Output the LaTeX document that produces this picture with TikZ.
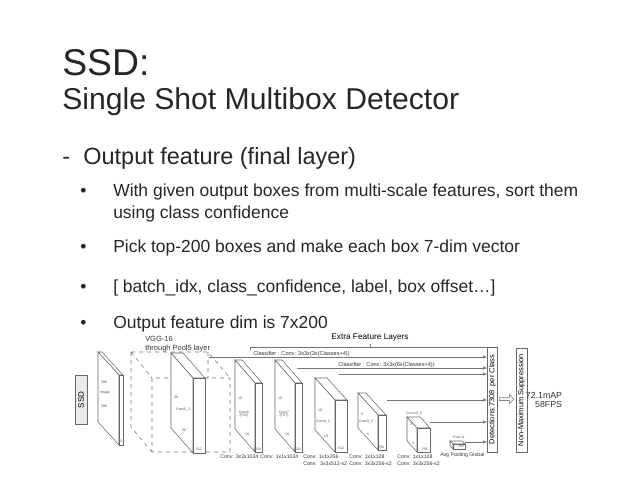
\documentclass[tikz,border=0pt]{standalone}
\usepackage{fontspec}
\setmainfont{Liberation Sans}
\usetikzlibrary{arrows.meta,shapes.arrows}
\begin{document}
\begin{tikzpicture}[x=0.75pt,y=-0.75pt,
  txt/.style={anchor=base west,inner sep=0,text=black!85},
  bul/.style={txt,font=\fontsize{13.1}{15}\selectfont},
  lay/.style={draw=black!60,line width=0.4pt,fill=white},
  tiny/.style={inner sep=0,font=\fontsize{2.6}{3}\selectfont,text=black!70},
  lbl/.style={inner sep=0,font=\fontsize{5.6}{6}\selectfont,text=black!80,anchor=base west},
  blbl/.style={lbl,font=\fontsize{3.9}{4.5}\selectfont},
  cls/.style={draw=black!55,line width=0.4pt,-{Latex[length=3pt,width=2.4pt]}},
  vbox/.style={draw=black!60,line width=0.5pt,fill=black!8}]
\useasboundingbox (0,0) rectangle (638,479);
\node[txt,font=\fontsize{28}{30}\selectfont] (t1) at (62,75) {SSD:};
\node[txt,font=\fontsize{22.6}{26}\selectfont] (t2) at (62,109) {Single Shot Multibox Detector};
\node[txt,font=\fontsize{17.6}{20}\selectfont] (t3) at (62,164) {-\hspace{10pt}Output feature (final layer)};
\foreach \yy/\tt [count=\i] in {196/{With given output boxes from multi-scale features, sort them},
  252/{Pick top-200 boxes and make each box 7-dim vector},
  292/{[ batch\_idx, class\_confidence, label, box offset…]},
  328/{Output feature dim is 7x200}}{
  \node[bul] (b\i) at (80,\yy) {•};
  \node[bul] (bt\i) at (113,\yy) {\tt};}
\node[bul] (bt1b) at (113,218) {using class confidence};
% slab macro
\newcommand{\slab}[8]{% name,x,y,dx,dy,h,w,style
  \draw[#8] (#2,#3) -- (#2+#7,#3) -- (#2+#4+#7,#3+#5) -- (#2+#4,#3+#5) -- cycle;
  \draw[#8] (#2,#3) -- (#2+#4,#3+#5) -- (#2+#4,#3+#5+#6) -- (#2,#3+#6) -- cycle;
  \draw[#8] (#2+#4,#3+#5) rectangle (#2+#4+#7,#3+#5+#6);
  \coordinate (#1) at (#2+#7,#3);}
% SSD box
\node[vbox,minimum width=37pt,minimum height=9pt,inner sep=0,rotate=90,font=\fontsize{6}{7}\selectfont] (ssd) at (81,400) {SSD};
% image
\slab{img}{98}{352}{21}{23}{70}{4}{lay}
\node[tiny] at (104,382) {300}; \node[tiny] at (105,393) {Image}; \node[tiny] at (104,406) {300}; \node[tiny] at (121,441) {3};
% VGG dashed cube
\draw[dashed,draw=black!55,line width=0.4pt] (131,352) -- (208,352) -- (230,378) (131,352) -- (152,378) (131,352) -- (131,427) -- (152,452) (208,352) -- (208,378) (152,378) rectangle (230,452);
\slab{c53}{171}{353}{22}{25}{75}{12}{lay}
\node[tiny] at (176,397) {38}; \node[tiny] at (183,410) {Conv5\_3}; \node[tiny] at (184,430) {38}; \node[tiny] at (199,449) {512};
\node[lbl] (vgg) at (145,341) {VGG-16};
\node[lbl] (vgg2) at (145,350) {through Pool5 layer};
\slab{c6}{235}{360}{20}{23}{69}{7}{lay}
\node[tiny] at (240,398) {19}; \node[tiny] at (244,412) {Conv6}; \node[tiny] at (244,416) {(FC6)}; \node[tiny] at (247,434) {19}; \node[tiny] at (257,449) {1024};
\slab{c7}{275}{360}{20}{23}{69}{7}{lay}
\node[tiny] at (280,398) {19}; \node[tiny] at (284,412) {Conv7}; \node[tiny] at (284,416) {(FC7)}; \node[tiny] at (287,434) {19}; \node[tiny] at (297,449) {1024};
\slab{c8}{315}{378}{20}{22}{52}{12}{lay}
\node[tiny] at (320,410) {10}; \node[tiny] at (323,422) {Conv8\_2}; \node[tiny] at (326,436) {10}; \node[tiny] at (341,448) {512};
\slab{c9}{358}{393}{20}{22}{35}{8}{lay}
\node[tiny] at (362,414) {5}; \node[tiny] at (366,422) {Conv9\_2}; \node[tiny] at (368,434) {5}; \node[tiny] at (381,447) {256};
\slab{c10}{407}{417}{10}{11}{24}{13}{lay}
\node[tiny] at (411,424) {3}; \node[tiny] at (413,443) {3}; \node[tiny] at (425,449) {256}; \node[tiny] at (414,414) {Conv10\_2};
\slab{p11}{450}{441}{3}{3}{5}{12}{lay}
\node[tiny] at (459,437) {Pool 11}; \node[tiny] at (461,446) {256};
% detections and NMS
\node[vbox,fill=white,minimum width=78.75pt,minimum height=7.5pt,inner sep=0,rotate=90,font=\fontsize{5.6}{6}\selectfont] (det) at (492.5,399.5) {Detections:7308 \ per Class};
\node[vbox,fill=white,minimum width=78pt,minimum height=8.5pt,inner sep=0,rotate=90,font=\fontsize{5.6}{6}\selectfont] (nms) at (521.5,400) {Non-Maximum Suppression};
\node[single arrow,draw=black!50,fill=black!5,minimum height=11pt,minimum width=7pt,single arrow head extend=1.5pt,inner sep=0.5pt] (ar) at (506,399) {};
\node[inner sep=0,font=\fontsize{6.6}{7}\selectfont,align=right,text=black!80] (map) at (544,400) {72.1mAP\\58FPS};
% classifier lines
\coordinate (s1) at (209,357);
\coordinate (s2) at (297,368);
\coordinate (s3) at (339,374);
\coordinate (s4) at (387,400);
\coordinate (s5) at (430,422);
\coordinate (s6) at (465,442);
\foreach \s in {s1,s2,s3,s4,s5,s6} \draw[cls] (\s) -- (\s -| det.north);
\draw[draw=black!55,line width=0.4pt] (250,350) -- (250,347) -- (487,347) -- (487,350) (370,347) -- (370,344);
\node[inner sep=0,font=\fontsize{6.2}{7}\selectfont,anchor=base] (efl) at (370,339) {Extra Feature Layers};
\node[lbl,font=\fontsize{4.2}{5}\selectfont] (cl1) at (253,355) {Classifier : Conv: 3x3x(3x(Classes+4))};
\node[lbl,font=\fontsize{4.2}{5}\selectfont] (cl2) at (338,366) {Classifier : Conv: 3x3x(6x(Classes+4))};
% bottom labels
\node[blbl] at (220,458) {Conv: 3x3x1024};
\node[blbl] at (260,458) {Conv: 1x1x1024};
\node[blbl] at (303,458) {Conv: 1x1x256};
\node[blbl] at (303,465) {Conv: \ 3x3x512-s2};
\node[blbl] at (349,458) {Conv: 1x1x128};
\node[blbl] at (349,465) {Conv: 3x3x256-s2};
\node[blbl] at (397,458) {Conv: 1x1x128};
\node[blbl] at (397,465) {Conv: 3x3x256-s2};
\node[blbl] at (440,456) {Avg Pooling Global};
\end{tikzpicture}
\end{document}
